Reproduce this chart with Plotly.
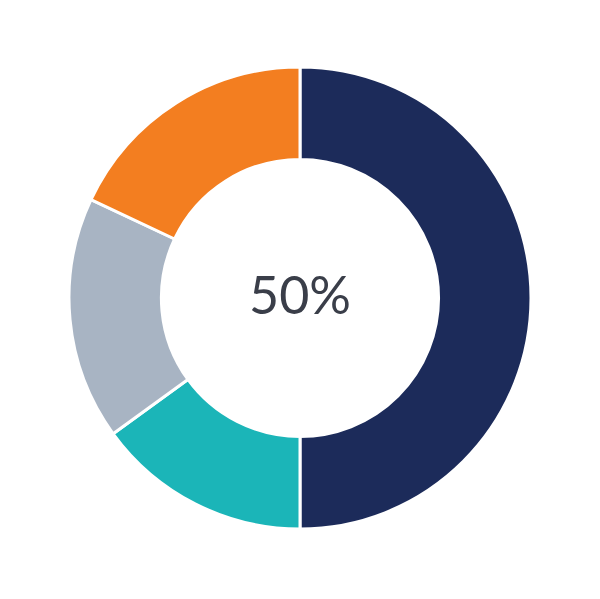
import plotly.graph_objects as go

labels = ["A", "B", "C", "D"]
values = [50, 15, 17, 18]
colors = ["#1c2b5a", "#1bb5b8", "#a8b4c3", "#f37e20"]
center_text = "50%"

fig = go.Figure(go.Pie(
    labels=labels,
    values=values,
    hole=0.6,
    sort=False,
    direction="clockwise",
    rotation=0,
    marker=dict(colors=colors, line=dict(color="white", width=3)),
    textinfo="none",
    hoverinfo="label+percent",
    showlegend=False,
))

fig.add_annotation(
    text=center_text, x=0.5, y=0.5, xref="paper", yref="paper",
    showarrow=False, yshift=4,
    font=dict(family="Lato", size=52, color="#3a3e49"),
)

fig.update_layout(
    width=600, height=599,
    margin=dict(l=61, r=77, t=59, b=78),
    paper_bgcolor="white", plot_bgcolor="white",
)

fig.write_html("out.html")
